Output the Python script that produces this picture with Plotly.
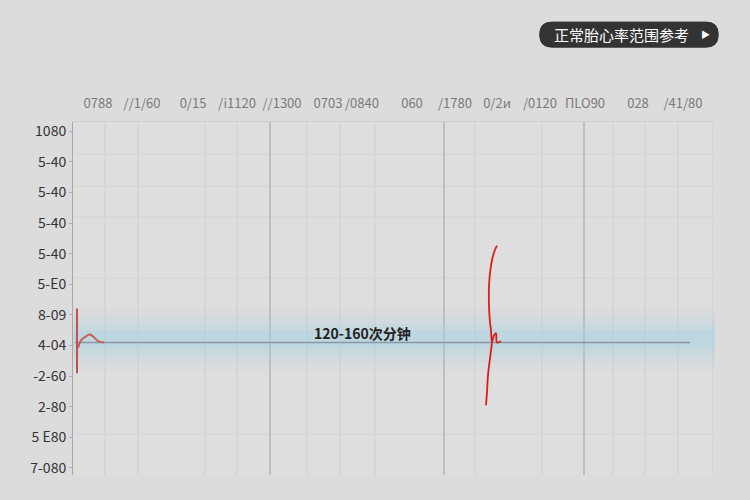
import plotly.graph_objects as go

# top axis labels (as printed on the chart) and their positions
time_ticks = [2.5, 6.9, 12.0, 16.4, 20.9, 25.5, 28.9, 33.9, 38.2, 42.4, 46.7, 51.2, 56.5, 61.0]
time_labels = ['0788', '//1/60', '0/15', '/i1120', '//1300', '0703', '/0840',
               '060', '/1780', '0/2и', '/0120', 'ΠLO90', '028', '/41/80']

# left axis labels, bottom to top
fhr_ticks = [0, 1, 2, 3, 4, 5, 6, 7, 8, 9, 10, 11]
fhr_labels = ['7-080', '5 E80', '2-80', '-2-60', '4-04', '8-09',
              '5-E0', '5-40', '5-40', '5-40', '5-40', '1080']

# baseline
base_t = [0.2, 61.7]
base_v = [4.1, 4.1]

# start artefact
start_t = [0.4, 0.4]
start_v = [5.21, 3.09]
bump_t = [0.5, 0.8, 1.3, 1.7, 2.1, 2.5, 3.1]
bump_v = [3.91, 4.17, 4.30, 4.36, 4.27, 4.14, 4.10]

# spike around the middle-right
spike_up_t = [42.4, 42.1, 41.8, 41.6, 41.6, 41.7, 41.8, 41.9, 42.1, 42.3, 42.4, 42.8]
spike_up_v = [7.26, 7.04, 6.61, 5.96, 5.31, 4.76, 4.50, 4.10, 4.33, 4.40, 4.10, 4.14]
spike_dn_t = [41.9, 41.7, 41.5, 41.4, 41.3]
spike_dn_v = [4.10, 3.58, 3.03, 2.48, 2.05]

grid_strong = [19.7, 37.1, 51.1]
grid_light = [3.2, 6.5, 13.2, 16.4, 23.4, 26.7, 30.2, 40.2, 46.9, 54.0, 57.2, 60.5, 64.0]
grid_h = [10.25, 9.2, 8.2, 6.2, 1.1]

fig = go.Figure()

# blue glow band around normal range
for half, op in [(1.0, 0.08), (0.75, 0.12), (0.5, 0.18), (0.28, 0.25)]:
    fig.add_shape(type='rect', xref='x', yref='y', x0=0, x1=64.2,
                  y0=4.2 - half, y1=4.2 + half, fillcolor='#9fd0e3',
                  line_width=0, opacity=op, layer='below')

for g in grid_light:
    fig.add_shape(type='line', xref='x', yref='paper', x0=g, x1=g, y0=0, y1=1,
                  line=dict(color='#cfcfcf', width=1), layer='below')
for g in grid_h:
    fig.add_shape(type='line', xref='paper', yref='y', x0=0, x1=1, y0=g, y1=g,
                  line=dict(color='#d4d4d4', width=1), layer='below')
for g in grid_strong:
    fig.add_shape(type='line', xref='x', yref='paper', x0=g, x1=g, y0=0, y1=1,
                  line=dict(color='#a8a8a8', width=1.2), layer='below')

fig.add_trace(go.Scatter(x=base_t, y=base_v, mode='lines',
                         line=dict(color='#8a96a3', width=1.5), showlegend=False))
fig.add_trace(go.Scatter(x=start_t, y=start_v, mode='lines',
                         line=dict(color='#c8504a', width=2), showlegend=False))
fig.add_trace(go.Scatter(x=bump_t, y=bump_v, mode='lines', line_shape='spline',
                         line=dict(color='#c8605a', width=2), showlegend=False))
fig.add_trace(go.Scatter(x=spike_up_t, y=spike_up_v, mode='lines', line_shape='spline',
                         line=dict(color='#dd1c1c', width=1.8), showlegend=False))
fig.add_trace(go.Scatter(x=spike_dn_t, y=spike_dn_v, mode='lines', line_shape='spline',
                         line=dict(color='#dd1c1c', width=1.8), showlegend=False))

fig.add_annotation(x=28.9, y=4.4, xref='x', yref='y', text='<b>120-160次分钟</b>',
                   showarrow=False, font=dict(size=14, color='#222'))

# dark rounded badge, top right
x0, x1, y0, y1 = 0.727, 1.005, 1.212, 1.283
rx, ry = 0.019, 0.034
badge = (f'M {x0+rx},{y0} L {x1-rx},{y0} Q {x1},{y0} {x1},{y0+ry} '
         f'L {x1},{y1-ry} Q {x1},{y1} {x1-rx},{y1} L {x0+rx},{y1} '
         f'Q {x0},{y1} {x0},{y1-ry} L {x0},{y0+ry} Q {x0},{y0} {x0+rx},{y0} Z')
fig.add_shape(type='path', xref='paper', yref='paper', path=badge,
              fillcolor='#333333', line=dict(color='#333333', width=1))
fig.add_annotation(x=0.855, y=1.2475, xref='paper', yref='paper',
                   xanchor='center', yanchor='middle',
                   text='正常胎心率范围参考', showarrow=False,
                   font=dict(size=15, color='white'))
fig.add_annotation(x=0.985, y=1.2475, xref='paper', yref='paper',
                   xanchor='center', yanchor='middle',
                   text='▶', showarrow=False,
                   font=dict(size=9, color='white'))

fig.update_layout(
    width=750, height=500,
    margin=dict(l=73, r=35, t=122, b=25),
    paper_bgcolor='#dcdcdc', plot_bgcolor='#dedede',
    font=dict(family='Noto Sans CJK SC, Noto Sans, sans-serif'),
    showlegend=False,
)
fig.update_xaxes(range=[0, 64.2], side='top', tickvals=time_ticks, ticktext=time_labels,
                 tickfont=dict(size=13, color='#7a7a7a'), showgrid=False,
                 zeroline=False, showline=True, linecolor='#cfcfcf', ticks='',
                 ticklabelstandoff=8)
fig.update_yaxes(range=[-0.23, 11.3], tickvals=fhr_ticks, ticktext=fhr_labels,
                 tickfont=dict(size=14, color='#333'), showgrid=False, zeroline=False,
                 showline=True, linecolor='#a8a8a8', ticks='outside', ticklen=3,
                 tickcolor='#b0b0b0')

fig.write_html('out.html', config={'displayModeBar': False},
               post_script="document.body.style.margin='0';document.body.style.background='#dcdcdc';")
